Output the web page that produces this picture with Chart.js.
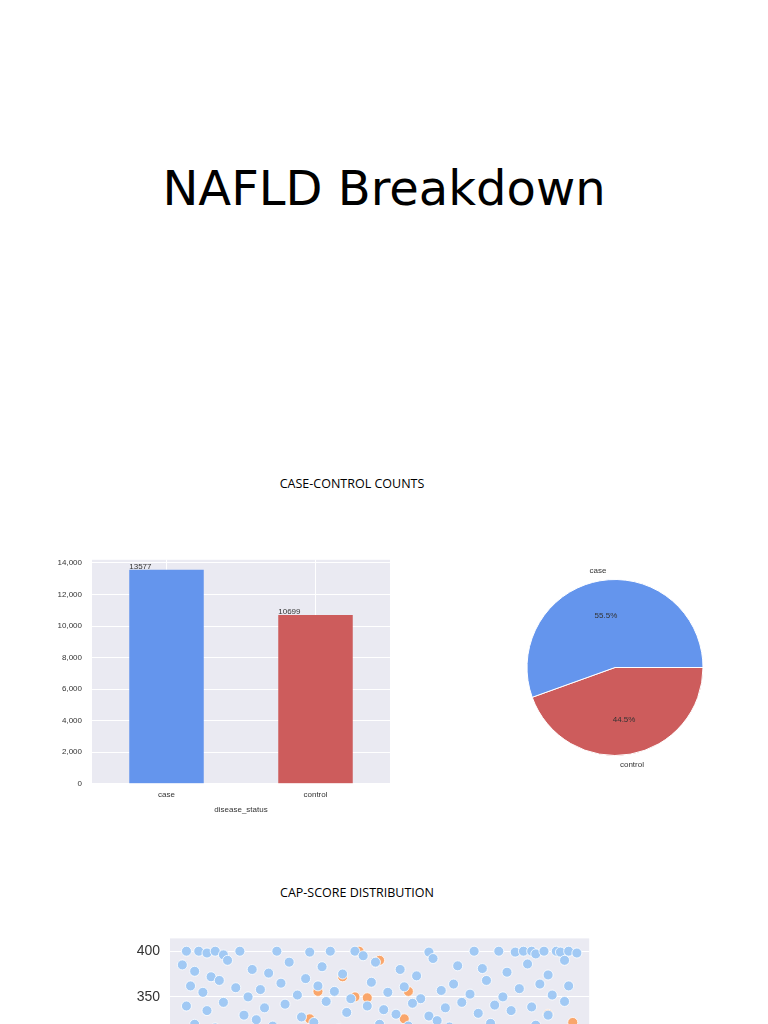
<!DOCTYPE html>
<html><head><meta charset="utf-8">
<script src="https://cdn.jsdelivr.net/npm/chart.js@4"></script>
<style>
body{margin:0;width:768px;height:1024px;overflow:hidden;background:#fff;font-family:"DejaVu Sans";position:relative}
.t{position:absolute;width:768px;text-align:center;color:#000}
</style></head><body>
<div class="t" style="left:0;top:160px;font-size:48px">NAFLD Breakdown</div>
<div class="t" style="left:-32px;top:475px;font-size:12.5px;font-family:'Open Sans'">CASE-CONTROL COUNTS</div>
<div class="t" style="left:-27px;top:884px;font-size:12.5px;font-family:'Open Sans'">CAP-SCORE DISTRIBUTION</div>
<div style="position:absolute;left:50px;top:545px;width:350px;height:270px"><canvas id="bar"></canvas></div>
<div style="position:absolute;left:500px;top:555px;width:230px;height:225px"><canvas id="pie"></canvas></div>
<div style="position:absolute;left:125px;top:920px;width:470px;height:310px"><canvas id="sc"></canvas></div>
<script>
const categories=["case","control"];
const counts=[13577,10699];
const pieLabels=["control","case"];
const piePct=[44.5,55.5];
const blueX=[4,7,9,11,13,17,26,34,39,45,47,63,74,80,84,86,88,89,91,94,95,97,99,3,6,10,14,20,24,29,33,37,42,50,56,60,64,70,76,82,87,92,96,5,8,12,16,19,22,27,31,36,40,44,49,53,57,61,66,69,73,77,81,85,90,93,97,4,9,13,18,23,28,32,38,43,48,52,55,59,63,67,71,75,79,83,88,92,96,6,11,15,21,25,30,35,41,46,51,54,58,62,65,68,72,78,84,89,94,3,7,10,14,17,20,26,29,33,37,43,47,53,56,60,64,70,74,80,86,91,95,5,12,16,22,27,31,36,40,45,50,57,61,66,72,76,82,87,93,97];
const blueY=[400,400,398,400,396,400,400,399,400,400,395,399,400,400,399,400,400,397,400,400,399,400,398,385,378,372,390,380,376,388,370,383,375,388,380,373,392,384,381,377,386,374,390,362,355,368,360,350,358,365,352,362,356,348,366,355,361,348,357,364,353,368,350,359,364,352,362,340,335,344,330,338,342,328,345,333,340,336,331,343,329,338,344,332,341,335,339,330,345,320,316,312,325,318,310,322,315,308,320,313,318,311,324,317,309,321,314,319,312,300,305,295,302,290,298,304,292,299,288,303,296,291,300,294,289,297,301,293,298,285,280,275,270,282,268,278,272,284,266,276,270,280,274,268,279,271,282,277];
const orangeX=[46,50,51,34,42,48,45,57,92,98,58,36];
const orangeY=[400,388,390,326,372,349,350,326,331,322,356,356];

const bg={id:'bg',beforeDraw(c){const a=c.chartArea,x=c.ctx;x.save();x.fillStyle='#eaeaf2';x.fillRect(a.left,a.top,a.right-a.left,a.bottom-a.top);x.restore();}};
const tickFont={family:'Liberation Sans',size:8};

new Chart(document.getElementById('bar'),{type:'bar',
data:{labels:categories,datasets:[{data:counts,backgroundColor:['#6495ed','#cd5c5c'],barPercentage:0.5,categoryPercentage:1}]},
options:{responsive:true,maintainAspectRatio:false,animation:false,layout:{padding:{top:10,right:10}},
plugins:{legend:{display:false},tooltip:{enabled:false}},
scales:{x:{offset:true,grid:{color:'#fff',offset:false,drawTicks:false},border:{display:false},ticks:{color:'#333',font:tickFont,padding:6},title:{display:true,text:'disease_status',color:'#333',font:tickFont,padding:0}},
y:{min:0,max:14200,grid:{color:'#fff',drawTicks:false},border:{display:false},afterBuildTicks(s){s.ticks=[0,2000,4000,6000,8000,10000,12000,14000].map(v=>({value:v}));},afterFit(s){s.width=42;},ticks:{color:'#333',font:tickFont,padding:10}}}},
plugins:[bg,{id:'lbl',afterDatasetsDraw(c){const x=c.ctx;x.save();x.font='8px Liberation Sans';x.fillStyle='#333';x.textBaseline='bottom';c.getDatasetMeta(0).data.forEach((b,i)=>{x.fillText(String(counts[i]),b.x-b.width/2,b.y+1);});x.restore();}}]});

new Chart(document.getElementById('pie'),{type:'pie',
data:{labels:pieLabels,datasets:[{data:piePct,backgroundColor:['#cd5c5c','#6495ed'],borderColor:'#fff',borderWidth:1}]},
options:{responsive:true,maintainAspectRatio:false,animation:false,rotation:90,layout:{padding:{top:24,bottom:24}},
plugins:{legend:{display:false},tooltip:{enabled:false}}},
plugins:[{id:'pl',afterDatasetsDraw(c){const x=c.ctx;x.save();x.font='8px Liberation Sans';x.fillStyle='#333';x.textAlign='center';x.textBaseline='middle';
c.getDatasetMeta(0).data.forEach((a,i)=>{const m=(a.startAngle+a.endAngle)/2;const r=a.outerRadius;
x.fillText(piePct[i].toFixed(1)+'%',a.x+Math.cos(m)*r*0.6,a.y+Math.sin(m)*r*0.6);
x.fillText(pieLabels[i],a.x+Math.cos(m)*r*1.12,a.y+Math.sin(m)*r*1.12);});x.restore();}}]});

new Chart(document.getElementById('sc'),{type:'scatter',
data:{datasets:[{data:blueX.map((v,i)=>({x:v,y:blueY[i]})),backgroundColor:'#a1c9f4',borderColor:'#fff',borderWidth:0.8,pointRadius:5},
{data:orangeX.map((v,i)=>({x:v,y:orangeY[i]})),backgroundColor:'#f9a66c',borderColor:'#fff',borderWidth:0.8,pointRadius:5}]},
options:{responsive:true,maintainAspectRatio:false,animation:false,layout:{padding:{top:8,bottom:0}},
plugins:{legend:{display:false},tooltip:{enabled:false}},
scales:{x:{display:false,min:0,max:102},
y:{min:115,max:414,grid:{color:'#fff',drawTicks:false},border:{display:false},afterBuildTicks(s){s.ticks=[150,200,250,300,350,400].map(v=>({value:v}));},afterFit(s){s.width=45;},ticks:{color:'#333',font:{family:'Liberation Sans',size:14},padding:10}}}},
plugins:[bg]});
</script>
</body></html>
